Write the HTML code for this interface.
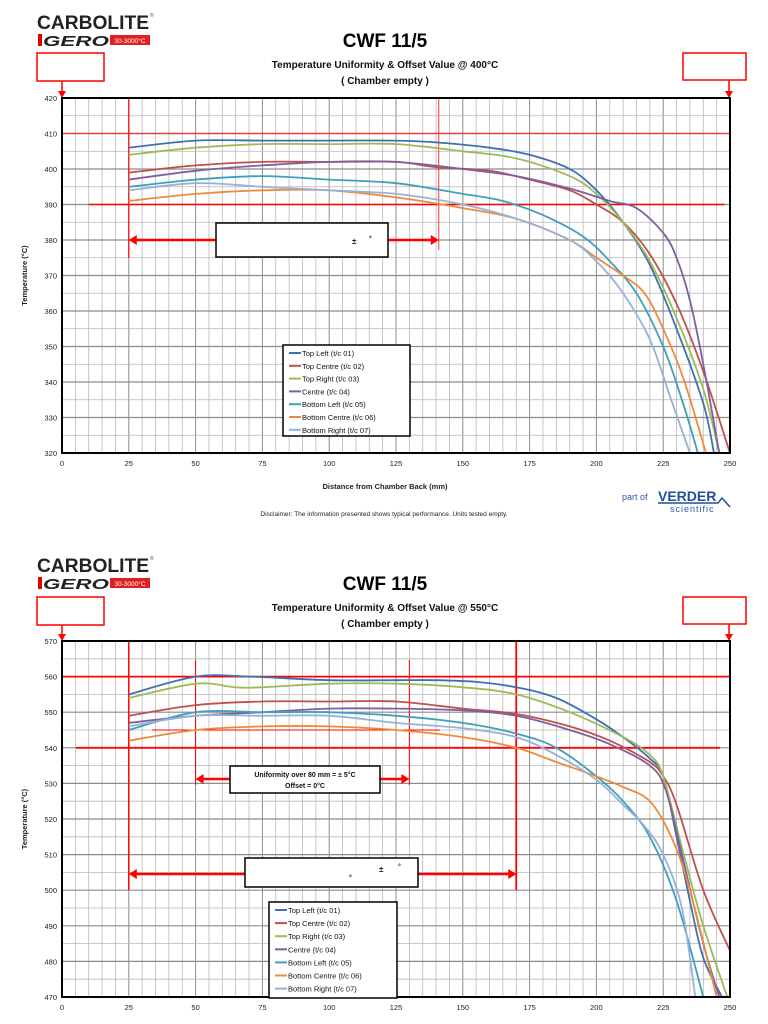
<!DOCTYPE html>
<html><head><meta charset="utf-8">
<style>
html,body{margin:0;padding:0;background:#fff;}
svg{display:block;font-family:"Liberation Sans",sans-serif;}
</style></head>
<body>
<svg id="page" width="768" height="1024" viewBox="0 0 768 1024" xmlns="http://www.w3.org/2000/svg"></svg>
<script>
// ---- Chart 1 data (400°C) ----
const xTicks = [0,25,50,75,100,125,150,175,200,225,250];
const seriesNames = ["Top Left (t/c 01)","Top Centre (t/c 02)","Top Right (t/c 03)","Centre (t/c 04)","Bottom Left (t/c 05)","Bottom Centre (t/c 06)","Bottom Right (t/c 07)"];
const c1YTicks = [320,330,340,350,360,370,380,390,400,410,420];
const c1TopLeft = [[25,406],[50,408],[75,408],[100,408],[125,408],[140,407.5],[160,406],[175,404],[190,400],[200,394],[210,385],[220,373],[230,355],[240,334],[244,320]];
const c1TopCentre = [[25,399],[50,401],[75,402],[100,402],[125,402],[140,400.5],[160,399.5],[175,397],[190,394],[200,390],[210,385],[220,376],[230,362],[240,343],[250,320]];
const c1TopRight = [[25,404],[50,406],[75,407],[100,407],[125,407],[150,405],[170,403],[190,398],[200,393],[210,385],[220,374],[230,358],[240,338],[246,320]];
const c1Centre = [[25,397],[50,399.5],[75,401],[100,402],[125,402],[150,400],[170,398],[190,394.5],[205,391],[215,389],[225,382],[230,375],[235,363],[240,345],[246,320]];
const c1BottomLeft = [[25,395],[50,397],[75,398],[100,397],[125,396],[150,393],[165,391],[180,387],[195,381],[205,374],[215,365],[225,350],[232,335],[238,320]];
const c1BottomCentre = [[25,391],[50,393],[75,394],[100,394],[125,392],[150,389],[170,386],[190,380],[200,375],[210,370],[218,365],[225,355],[233,340],[241,320]];
const c1BottomRight = [[25,394],[50,396],[75,395],[100,394],[125,393],[150,390],[170,386],[190,380],[200,374],[210,365],[220,352],[228,335],[235,320]];
// ---- Chart 2 data (550°C) ----
const c2YTicks = [470,480,490,500,510,520,530,540,550,560,570];
const c2TopLeft = [[25,555],[50,560],[70,560],[100,559],[125,559],[140,559],[155,558.5],[170,557],[185,554],[200,548],[210,543],[220,537],[225,532],[230,515],[235,497],[240,481],[247,470]];
const c2TopCentre = [[25,549],[50,552],[75,553],[100,553],[125,553],[150,551],[170,549.5],[190,546],[205,542],[220,536],[225,532],[230,524],[240,500],[250,483]];
const c2TopRight = [[25,554],[50,558],[65,557],[75,557],[100,558],[125,558],[150,557],[170,555],[190,550],[210,543],[220,538],[225,532],[232,512],[240,490],[249,470]];
const c2Centre = [[25,547],[50,549],[75,550],[100,551],[125,551],[150,550.5],[170,549],[190,545],[205,541],[220,535],[226,528],[232,510],[240,485],[246,470]];
const c2BottomLeft = [[25,545],[50,550],[75,550],[100,550],[125,549],[150,547],[170,544],[185,540],[200,532],[210,525],[220,515],[230,497],[240,470]];
const c2BottomCentre = [[25,542],[50,545],[75,546],[100,546],[125,545],[150,543],[170,540],[185,536],[200,532],[210,529],[220,525],[228,515],[235,500],[245,470]];
const c2BottomRight = [[25,546],[50,549],[75,549],[100,549],[125,547],[150,545.5],[170,543],[185,538],[200,531],[210,524],[218,518],[225,510],[232,495],[237,470]];

const colors = ["#4070b0","#c0504d","#9bbb59","#7f5fa0","#3fa0bd","#f08a3a","#95b3d7"];
const NS = "http://www.w3.org/2000/svg";
const page = document.getElementById('page');
function mk(tag, attrs, parent, text){
  const e = document.createElementNS(NS, tag);
  for (const k in attrs) e.setAttribute(k, attrs[k]);
  if (text !== undefined) e.textContent = text;
  (parent||page).appendChild(e);
  return e;
}
function smooth(pts){
  let d = "M"+pts[0][0].toFixed(1)+","+pts[0][1].toFixed(1);
  for (let i=0;i<pts.length-1;i++){
    const p0=pts[i-1]||pts[i], p1=pts[i], p2=pts[i+1], p3=pts[i+2]||p2;
    const c1x=p1[0]+(p2[0]-p0[0])/6, c1y=p1[1]+(p2[1]-p0[1])/6;
    const c2x=p2[0]-(p3[0]-p1[0])/6, c2y=p2[1]-(p3[1]-p1[1])/6;
    d+=" C"+c1x.toFixed(1)+","+c1y.toFixed(1)+" "+c2x.toFixed(1)+","+c2y.toFixed(1)+" "+p2[0].toFixed(1)+","+p2[1].toFixed(1);
  }
  return d;
}
function arrowLine(g, x1, x2, y){
  const l = mk('line',{x1:x1+6,y1:y,x2:x2-6,y2:y,stroke:'#ff0000','stroke-width':2.5},g);
  
  
  mk('path',{d:`M${x1},${y} l8,-5 l0,10 z`,fill:'#ff0000'},g);
  mk('path',{d:`M${x2},${y} l-8,-5 l0,10 z`,fill:'#ff0000'},g);
}
function logo(y0, idx){
  const g = mk('g',{});
  
  
  mk('text',{x:37,y:y0+17,'font-size':19,'font-weight':'bold',fill:'#222','textLength':112,lengthAdjust:'spacingAndGlyphs'},g,'CARBOLITE');
  mk('text',{x:150,y:y0+5,'font-size':5,fill:'#555'},g,'®');
  mk('rect',{x:38,y:y0+22,width:4,height:12,fill:'#e00000'},g);
  mk('text',{x:43,y:y0+34,'font-size':15,'font-weight':'bold','font-style':'italic',fill:'#222','textLength':66,lengthAdjust:'spacingAndGlyphs'},g,'GERO');
  mk('rect',{x:110,y:y0+23,width:40,height:10,fill:'#e02020'},g);
  mk('text',{x:130,y:y0+31,'font-size':6.5,'text-anchor':'middle',fill:'#fff'},g,'30-3000°C');
}
function chart(cfg){
  const X0=62, X1=730, Y0=cfg.top, Y1=cfg.bottom;
  const ymin=cfg.yTicks[0], ymax=cfg.yTicks[cfg.yTicks.length-1];
  const sx = v => X0 + (v/250)*(X1-X0);
  const sy = v => Y1 - (v-ymin)/(ymax-ymin)*(Y1-Y0);
  const g = mk('g',{});
  
  
  logo(cfg.logoY, cfg.idx);
  const t = mk('text',{x:385,y:cfg.titleY,'font-size':19,'font-weight':'bold','text-anchor':'middle',fill:'#000'},g,'CWF 11/5');
   
  const s1 = mk('text',{x:385,y:cfg.titleY+21,'font-size':10,'font-weight':'bold','text-anchor':'middle',fill:'#111'},g,cfg.subtitle);
   
  const s2 = mk('text',{x:385,y:cfg.titleY+37,'font-size':10,'font-weight':'bold','text-anchor':'middle',fill:'#111'},g,'( Chamber empty )');
   
  // red corner boxes
  mk('rect',{x:37,y:cfg.boxY,width:67,height:28,fill:'none',stroke:'#ff0000','stroke-width':1.5},g);
  mk('rect',{x:683,y:cfg.boxY,width:63,height:27,fill:'none',stroke:'#ff0000','stroke-width':1.5},g);
  mk('line',{x1:62,y1:cfg.boxY+28,x2:62,y2:Y0-5,stroke:'#ff0000','stroke-width':1.5},g);
  mk('path',{d:`M62,${Y0} l-4,-7 l8,0 z`,fill:'#ff0000'},g);
  mk('line',{x1:729,y1:cfg.boxY+27,x2:729,y2:Y0-5,stroke:'#ff0000','stroke-width':1.5},g);
  mk('path',{d:`M729,${Y0} l-4,-7 l8,0 z`,fill:'#ff0000'},g);
  // grid
  for (let v=0; v<=250; v+=5){
    mk('line',{x1:sx(v),y1:Y0,x2:sx(v),y2:Y1,stroke: v%25===0?'#8c8c8c':'#b8b8b8','stroke-width':v%25===0?1:0.8},g);
  }
  for (let v=ymin; v<=ymax; v+=5){
    mk('line',{x1:X0,y1:sy(v),x2:X1,y2:sy(v),stroke: v%10===0?'#8c8c8c':'#b8b8b8','stroke-width':v%10===0?1.2:0.8},g);
  }
  // ticks labels
  xTicks.forEach(v=>{
    const e = mk('text',{x:sx(v),y:Y1+13,'font-size':7.5,'text-anchor':'middle',fill:'#222'},g,String(v));
     
  });
  cfg.yTicks.forEach(v=>{
    const e = mk('text',{x:X0-5,y:sy(v)+3,'font-size':7.5,'text-anchor':'end',fill:'#222'},g,String(v));
     
  });
  const yt = mk('text',{x:0,y:0,'font-size':7.5,'font-weight':'bold','text-anchor':'middle',fill:'#222',transform:`translate(27,${(Y0+Y1)/2}) rotate(-90)`},g,'Temperature (°C)');
   
  if (cfg.xTitle){
    const xt = mk('text',{x:385,y:Y1+36,'font-size':7.5,'font-weight':'bold','text-anchor':'middle',fill:'#222'},g,'Distance from Chamber Back (mm)');
     
  }
  // red annotations
  const ann = mk('g',{},g);
   
  cfg.annot(ann, sx, sy);
  // series
  const clipId = 'clip'+cfg.idx;
  const cp = mk('clipPath',{id:clipId},g);
  mk('rect',{x:X0,y:Y0,width:X1-X0,height:Y1-Y0},cp);
  const sg = mk('g',{'clip-path':`url(#${clipId})`},g);
  cfg.series.forEach((s,i)=>{
    const p = mk('path',{d:smooth(s.map(q=>[sx(q[0]),sy(q[1])])),fill:'none',stroke:colors[i],'stroke-width':1.8},sg);
    
    
  });
  // frame
  mk('rect',{x:X0,y:Y0,width:X1-X0,height:Y1-Y0,fill:'none',stroke:'#000','stroke-width':2},g);
  // legend
  const L = cfg.legend;
  const lg = mk('g',{},g);
   
  mk('rect',{x:L.x,y:L.y,width:L.w,height:L.h,fill:'#fff',stroke:'#000','stroke-width':1.5},lg);
  seriesNames.forEach((n,i)=>{
    const yy = L.y+8+i*L.step;
    mk('line',{x1:L.x+6,y1:yy,x2:L.x+18,y2:yy,stroke:colors[i],'stroke-width':2},lg);
    const e = mk('text',{x:L.x+19,y:yy+3,'font-size':7.5,fill:'#111'},lg,n);
     
  });
}

chart({idx:1,name:'chart-400c',top:98,bottom:453,logoY:12,titleY:47,boxY:53,subtitle:'Temperature Uniformity & Offset Value @ 400°C',
  yTicks:c1YTicks,xTitle:true,
  series:[c1TopLeft,c1TopCentre,c1TopRight,c1Centre,c1BottomLeft,c1BottomCentre,c1BottomRight],
  legend:{x:283,y:345,w:127,h:91,step:12.8},
  annot:(g,sx,sy)=>{
    mk('line',{x1:62,y1:sy(410),x2:730,y2:sy(410),stroke:'#ff3030','stroke-width':1.2},g);
    mk('line',{x1:sx(10),y1:sy(390),x2:sx(248),y2:sy(390),stroke:'#ff0000','stroke-width':1.5},g);
    mk('line',{x1:sx(25),y1:98,x2:sx(25),y2:258,stroke:'#ff0000','stroke-width':1.2},g);
    mk('line',{x1:sx(141),y1:98,x2:sx(141),y2:250,stroke:'#ff3030','stroke-width':1},g);
    arrowLine(g, sx(25), sx(141), sy(380));
    mk('rect',{x:216,y:223,width:172,height:34,fill:'#fff',stroke:'#000','stroke-width':1.5},g);
    mk('text',{x:352,y:244,'font-size':8,'font-weight':'bold',fill:'#111'},g,'±');
    mk('text',{x:369,y:241,'font-size':7,'font-weight':'bold',fill:'#111'},g,'°');
  }});

chart({idx:2,name:'chart-550c',top:641,bottom:997,logoY:555,titleY:590,boxY:597,subtitle:'Temperature Uniformity & Offset Value @ 550°C',
  yTicks:c2YTicks,xTitle:false,
  series:[c2TopLeft,c2TopCentre,c2TopRight,c2Centre,c2BottomLeft,c2BottomCentre,c2BottomRight],
  legend:{x:269,y:902,w:128,h:96,step:13.1},
  annot:(g,sx,sy)=>{
    mk('line',{x1:62,y1:sy(560),x2:730,y2:sy(560),stroke:'#ff0000','stroke-width':1.8},g);
    mk('line',{x1:76,y1:sy(540),x2:720,y2:sy(540),stroke:'#ff0000','stroke-width':1.8},g);
    mk('line',{x1:152,y1:sy(545),x2:440,y2:sy(545),stroke:'#ff0000','stroke-width':1},g);
    mk('line',{x1:sx(25),y1:641,x2:sx(25),y2:890,stroke:'#ff0000','stroke-width':1.5},g);
    mk('line',{x1:sx(170),y1:641,x2:sx(170),y2:890,stroke:'#ff0000','stroke-width':1.8},g);
    mk('line',{x1:sx(50),y1:660,x2:sx(50),y2:785,stroke:'#ff0000','stroke-width':1},g);
    mk('line',{x1:sx(130),y1:660,x2:sx(130),y2:785,stroke:'#ff0000','stroke-width':1},g);
    arrowLine(g, sx(50), sx(130), 779);
    mk('rect',{x:230,y:766,width:150,height:27,fill:'#fff',stroke:'#000','stroke-width':1.5},g);
    mk('text',{x:305,y:777,'font-size':7,'font-weight':'bold','text-anchor':'middle',fill:'#111'},g,'Uniformity over 80 mm = ± 5°C');
    mk('text',{x:305,y:788,'font-size':7,'font-weight':'bold','text-anchor':'middle',fill:'#111'},g,'Offset = 0°C');
    arrowLine(g, sx(25), sx(170), 874);
    mk('rect',{x:245,y:858,width:173,height:29,fill:'#fff',stroke:'#000','stroke-width':1.5},g);
    mk('text',{x:349,y:880,'font-size':7,'font-weight':'bold',fill:'#111'},g,'°');
    mk('text',{x:379,y:872,'font-size':8,'font-weight':'bold',fill:'#111'},g,'±');
    mk('text',{x:398,y:869,'font-size':7,'font-weight':'bold',fill:'#111'},g,'°');
  }});

// footer (chart 1)
const disc = mk('text',{x:384,y:516,'font-size':6.5,'text-anchor':'middle',fill:'#222'},page,'Disclaimer: The information presented shows typical performance.  Units tested empty.');
 
const vg = mk('g',{});
 
mk('text',{x:622,y:500,'font-size':9,fill:'#2a5aa8'},vg,'part of');
mk('text',{x:658,y:501,'font-size':14,'font-weight':'bold',fill:'#1f4f9e'},vg,'VERDER');
mk('path',{d:'M658,503 L718,503 L722,498 L730,507',fill:'none',stroke:'#1f4f9e','stroke-width':1.5},vg);
mk('text',{x:670,y:512,'font-size':9,fill:'#2a5aa8','letter-spacing':'1'},vg,'scientific');
</script>
</body></html>
